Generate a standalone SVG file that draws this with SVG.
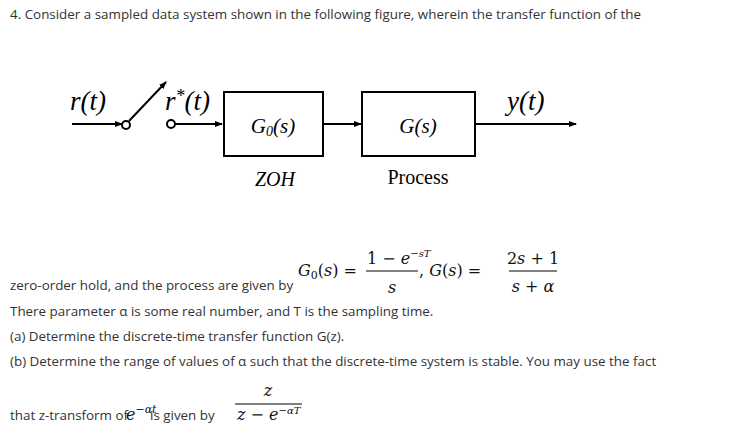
<svg xmlns="http://www.w3.org/2000/svg" width="745" height="434" viewBox="0 0 745 434">
<style>
.t{font-family:"Open Sans","Liberation Sans",sans-serif;font-size:13.4px;fill:#333}
.m{font-family:"DejaVu Serif","Liberation Serif",serif;font-size:16px;fill:#111}
.d{font-family:"Liberation Serif",serif;font-style:italic;fill:#000}
.b{fill:#fff;stroke:#000;stroke-width:2}
.l{stroke:#000;stroke-width:2;fill:none}
</style>
<defs><marker id="a" markerWidth="8" markerHeight="8" refX="7" refY="4" orient="auto" markerUnits="userSpaceOnUse"><path d="M0,1 L8,4 L0,7 Z" fill="#000"/></marker></defs>
<rect width="745" height="434" fill="#fff"/>
<text class="t" x="10" y="19">4. Consider a sampled data system shown in the following figure, wherein the transfer function of the</text>
<g id="connectors">
<line class="l" x1="72" y1="124" x2="122" y2="124" marker-end="url(#a)"/>
<line class="l" x1="129" y1="121" x2="166" y2="82" marker-end="url(#a)"/>
<line class="l" x1="175" y1="124" x2="222" y2="124" marker-end="url(#a)"/>
<line class="l" x1="323" y1="124" x2="361" y2="124" marker-end="url(#a)"/>
<line class="l" x1="475" y1="124" x2="576" y2="124" marker-end="url(#a)"/>
<circle cx="126" cy="125" r="4" fill="#fff" stroke="#000" stroke-width="2"/>
<circle cx="171" cy="124" r="4" fill="#fff" stroke="#000" stroke-width="2"/>
</g>
<g id="labels">
<text class="d" x="70" y="110" font-size="27">r(t)</text>
<text class="d" x="165" y="110" font-size="27">r<tspan font-size="18" dy="-8">*</tspan><tspan dy="8">(t)</tspan></text>
<text class="d" x="507" y="110" font-size="27">y(t)</text>
</g>
<g id="zoh"><rect class="b" x="224" y="92" width="99" height="64"/>
<text class="d" x="273" y="133" font-size="21" text-anchor="middle">G<tspan font-size="14" dy="3">0</tspan><tspan dy="-3">(s)</tspan></text>
<text class="d" x="275" y="186" font-size="20" text-anchor="middle">ZOH</text></g>
<g id="process"><rect class="b" x="362" y="92" width="113" height="64"/>
<text class="d" x="418" y="133" font-size="21" text-anchor="middle">G(s)</text>
<text x="418" y="184" font-family="Liberation Serif,serif" font-size="20" text-anchor="middle">Process</text></g>
<text class="t" x="10" y="290">zero-order hold, and the process are given by</text>
<text class="m" x="298" y="276"><tspan font-style="italic">G</tspan><tspan font-size="11" dy="3">0</tspan><tspan dy="-3">(</tspan><tspan font-style="italic">s</tspan>) =</text>
<text class="m" x="367" y="264">1 − <tspan font-style="italic">e</tspan><tspan font-size="10" dy="-7">−<tspan font-style="italic">sT</tspan></tspan></text>
<line x1="366" y1="271" x2="418" y2="271" stroke="#000"/>
<text class="m" x="392" y="293" text-anchor="middle" font-style="italic">s</text>
<text class="m" x="419" y="276">, <tspan font-style="italic">G</tspan>(<tspan font-style="italic">s</tspan>) =</text>
<text class="m" x="533" y="264" text-anchor="middle">2<tspan font-style="italic">s</tspan> + 1</text>
<line x1="509" y1="271" x2="557" y2="271" stroke="#000"/>
<text class="m" x="533" y="292" text-anchor="middle"><tspan font-style="italic">s</tspan> + <tspan font-style="italic">α</tspan></text>
<text class="t" x="10" y="316">There parameter α is some real number, and T is the sampling time.</text>
<text class="t" x="10" y="341">(a) Determine the discrete-time transfer function G(z).</text>
<text class="t" x="10" y="366">(b) Determine the range of values of α such that the discrete-time system is stable. You may use the fact</text>
<text class="m" x="268" y="396" font-style="italic" font-size="14" text-anchor="middle">z</text>
<line x1="235" y1="404" x2="302" y2="404" stroke="#000"/>
<text class="t" x="10" y="420">that z-transform of</text>
<text class="m" x="126" y="420" font-size="14" font-style="italic">e<tspan font-size="11" dy="-7">−αt</tspan></text>
<text class="t" x="150" y="420">is given by</text>
<text class="m" x="237" y="420" font-size="14"><tspan font-style="italic">z</tspan> − <tspan font-style="italic">e</tspan><tspan font-size="10" dy="-6">−<tspan font-style="italic">αT</tspan></tspan></text>
</svg>
